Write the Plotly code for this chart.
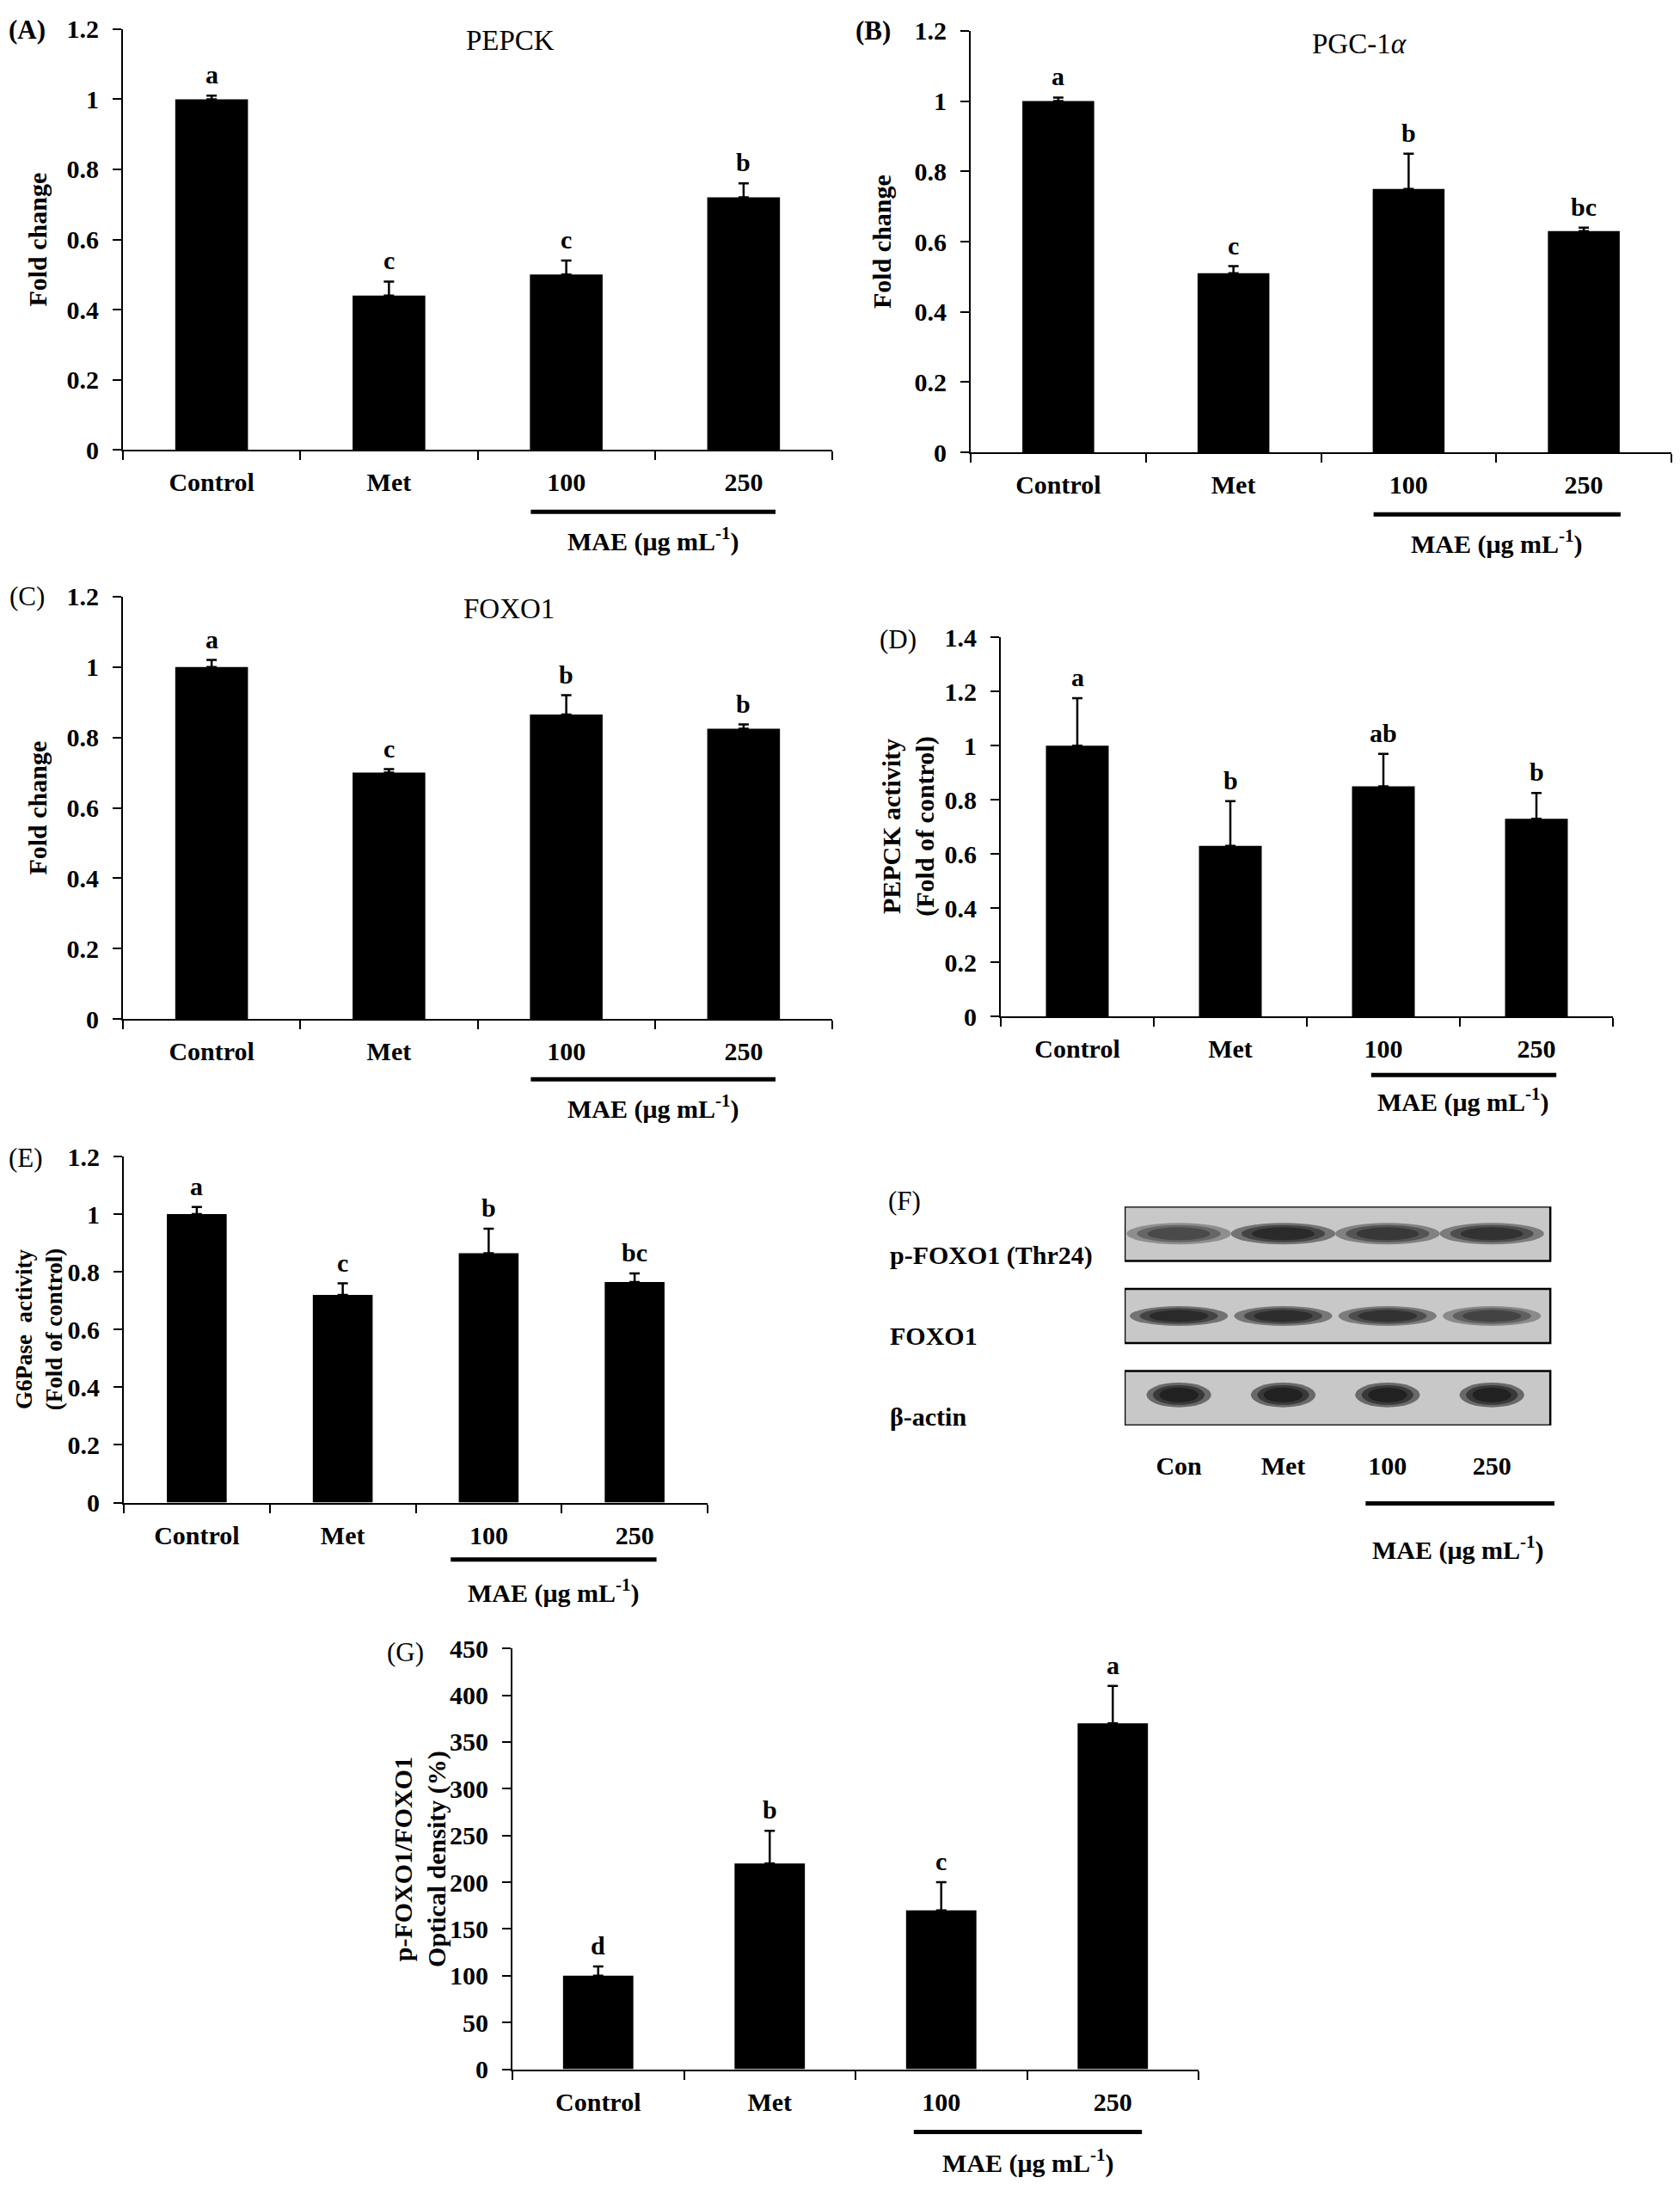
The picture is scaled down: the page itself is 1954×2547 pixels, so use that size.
import plotly.graph_objects as go

# page is 1954 x 2547; the body keeps its default 8px margin, so the figure is 16px smaller
PAGE_W, PAGE_H = 1954, 2547
PAD = 8
W, H = PAGE_W - 2 * PAD, PAGE_H - 2 * PAD
FONT = 'Liberation Serif'

groups = ['Control', 'Met', '100', '250']

# (A) PEPCK mRNA
pepck_mrna = [1.00, 0.44, 0.50, 0.72]
pepck_mrna_err = [0.01, 0.04, 0.04, 0.04]
pepck_mrna_sig = ['a', 'c', 'c', 'b']

# (B) PGC-1a mRNA
pgc1a_mrna = [1.00, 0.51, 0.75, 0.63]
pgc1a_mrna_err = [0.01, 0.02, 0.10, 0.01]
pgc1a_mrna_sig = ['a', 'c', 'b', 'bc']

# (C) FOXO1 mRNA
foxo1_mrna = [1.00, 0.70, 0.865, 0.825]
foxo1_mrna_err = [0.02, 0.01, 0.055, 0.012]
foxo1_mrna_sig = ['a', 'c', 'b', 'b']

# (D) PEPCK activity
pepck_act = [1.00, 0.63, 0.85, 0.73]
pepck_act_err = [0.175, 0.165, 0.12, 0.095]
pepck_act_sig = ['a', 'b', 'ab', 'b']

# (E) G6Pase activity
g6pase_act = [1.00, 0.72, 0.865, 0.765]
g6pase_act_err = [0.025, 0.04, 0.085, 0.03]
g6pase_act_sig = ['a', 'c', 'b', 'bc']

# (G) p-FOXO1/FOXO1 optical density
ratio_od = [100, 220, 170, 370]
ratio_od_err = [10, 35, 30, 40]
ratio_od_sig = ['d', 'b', 'c', 'a']

# (F) western blot, relative band darkness per lane
lanes = ['Con', 'Met', '100', '250']
blot_rows = ['p-FOXO1 (Thr24)', 'FOXO1', 'β-actin']
pfoxo1_band = [0.60, 0.90, 0.75, 0.80]
foxo1_band = [0.90, 0.85, 0.80, 0.65]
actin_band = [1.00, 1.00, 1.00, 1.00]


def px(x):
    return min(max((x - PAD) / W, 0), 1)


def py(y):
    return min(max(1 - (y - PAD) / H, 0), 1)


def font(size, bold=True):
    return dict(family=FONT, size=size, color='black', weight='bold' if bold else 'normal')


pos = list(range(len(groups)))
bounds = [i - 0.5 for i in range(len(groups) + 1)]

# box = (x left, x right, y of 0, y of max) in page pixels
panels = [
    dict(vals=pepck_mrna, err=pepck_mrna_err, sig=pepck_mrna_sig, ymax=1.2, step=0.2,
         box=(143, 968, 513, 17), title='PEPCK', title_xy=(593, 30),
         label='<b>(A)</b>', label_xy=(6, 18), ytitle='Fold change', ytitle_x=44, ytitle_size=30,
         mae=(1.80, 3.18, 586, 619)),
    dict(vals=pgc1a_mrna, err=pgc1a_mrna_err, sig=pgc1a_mrna_sig, ymax=1.2, step=0.2,
         box=(1129, 1944, 516, 19), title='PGC-1<i>α</i>', title_xy=(1581, 34),
         label='<b>(B)</b>', label_xy=(993, 19), ytitle='Fold change', ytitle_x=1025, ytitle_size=30,
         mae=(1.80, 3.21, 589, 622)),
    dict(vals=foxo1_mrna, err=foxo1_mrna_err, sig=foxo1_mrna_sig, ymax=1.2, step=0.2,
         box=(143, 968, 1184, 686), title='FOXO1', title_xy=(592, 700),
         label='(C)', label_xy=(9, 686), ytitle='Fold change', ytitle_x=44, ytitle_size=30,
         mae=(1.80, 3.18, 1255, 1288)),
    dict(vals=pepck_act, err=pepck_act_err, sig=pepck_act_sig, ymax=1.4, step=0.2,
         box=(1164, 1876, 1181, 734), title=None, title_xy=None,
         label='(D)', label_xy=(1021, 736), ytitle='PEPCK activity<br>(Fold of control)',
         ytitle_x=1057, ytitle_size=30, mae=(1.92, 3.13, 1250, 1280)),
    dict(vals=g6pase_act, err=g6pase_act_err, sig=g6pase_act_sig, ymax=1.2, step=0.2,
         box=(144, 823, 1754, 1346), title=None, title_xy=None,
         label='(E)', label_xy=(PAD, 1347), ytitle='G6Pase  activity<br>(Fold of control)',
         ytitle_x=45, ytitle_size=27, mae=(1.74, 3.15, 1821, 1858)),
    dict(vals=ratio_od, err=ratio_od_err, sig=ratio_od_sig, ymax=450, step=50,
         box=(596, 1394, 2422, 1926), title=None, title_xy=None,
         label='(G)', label_xy=(448, 1930), ytitle='p-FOXO1/FOXO1<br>Optical density (%)',
         ytitle_x=489, ytitle_size=30, mae=(1.84, 3.17, 2496, 2530)),
]

fig = go.Figure()
annotations = []
shapes = []
layout = {}

for k, p in enumerate(panels, start=1):
    xa = 'x' if k == 1 else f'x{k}'
    ya = 'y' if k == 1 else f'y{k}'
    x0, x1, yb, yt = p['box']

    fig.add_trace(go.Bar(
        x=pos, y=p['vals'], width=0.41,
        marker=dict(color='black', line=dict(width=0)),
        error_y=dict(type='data', symmetric=False, array=p['err'], arrayminus=[0] * len(pos),
                     color='black', thickness=2.5, width=6),
        xaxis=xa, yaxis=ya, showlegend=False, hovertext=groups,
    ))

    n_ticks = int(round(p['ymax'] / p['step']))
    tickvals = [round(i * p['step'], 3) for i in range(n_ticks + 1)]
    ticktext = [f'{v:g}' for v in tickvals]

    layout['xaxis' if k == 1 else f'xaxis{k}'] = dict(
        domain=[px(x0), px(x1)], anchor=ya, range=[-0.5, len(groups) - 0.5],
        tickvals=pos, ticktext=groups, ticks='', ticklabelstandoff=10,
        minor=dict(tickvals=bounds, ticks='outside', ticklen=10, tickwidth=2, tickcolor='black',
                   showgrid=False),
        showline=True, linecolor='black', linewidth=2,
        tickfont=font(30), showgrid=False, zeroline=False,
    )
    layout['yaxis' if k == 1 else f'yaxis{k}'] = dict(
        domain=[py(yb), py(yt)], anchor=xa, range=[0, p['ymax']],
        tickvals=tickvals, ticktext=ticktext,
        showline=True, linecolor='black', linewidth=2,
        ticks='outside', ticklen=10, tickwidth=2, tickcolor='black',
        tickfont=font(30), ticklabelstandoff=10, showgrid=False, zeroline=False,
    )

    # significance letters
    for g, v, e, s in zip(pos, p['vals'], p['err'], p['sig']):
        annotations.append(dict(x=g, y=v + e, xref=xa, yref=ya, text=f'<b>{s}</b>',
                                showarrow=False, yanchor='bottom', yshift=6, font=font(30)))

    # y title
    annotations.append(dict(x=px(p['ytitle_x']), y=(py(yb) + py(yt)) / 2, xref='paper', yref='paper',
                            text=f"<b>{p['ytitle']}</b>", textangle=-90, showarrow=False,
                            xanchor='center', yanchor='middle', font=font(p['ytitle_size'])))

    # panel letter
    annotations.append(dict(x=px(p['label_xy'][0]), y=py(p['label_xy'][1]), xref='paper', yref='paper',
                            text=p['label'], showarrow=False, xanchor='left', yanchor='middle',
                            font=font(31, bold=False)))

    if p['title']:
        annotations.append(dict(x=px(p['title_xy'][0]), y=py(p['title_xy'][1]), xref='paper', yref='paper',
                                text=p['title'], showarrow=False, xanchor='center', yanchor='middle',
                                font=font(33, bold=False)))

    # MAE bracket line
    m0, m1, ly, ty = p['mae']
    shapes.append(dict(type='line', xref=xa, yref='paper', x0=m0, x1=m1, y0=py(ly), y1=py(ly),
                       line=dict(color='black', width=5)))
    annotations.append(dict(x=(m0 + m1) / 2, y=py(ty), xref=xa, yref='paper',
                            text='<b>MAE (μg mL<sup>-1</sup>)</b>', showarrow=False,
                            xanchor='center', yanchor='middle', font=font(30)))

# (F) western blot panel on its own axes: x = lane, y = row
lane_pos = list(range(len(lanes)))
fig.add_trace(go.Scatter(x=lane_pos, y=[0] * len(lanes), mode='markers', marker=dict(opacity=0),
                         xaxis='x7', yaxis='y7', showlegend=False, hoverinfo='skip'))
layout['xaxis7'] = dict(domain=[px(1308), px(1808)], anchor='y7', range=[-0.52, 3.6],
                        tickvals=lane_pos, ticktext=lanes,
                        showline=False, ticks='', showgrid=False, zeroline=False,
                        tickfont=font(30), ticklabelstandoff=26)
layout['yaxis7'] = dict(domain=[py(1663), py(1405)], anchor='x7', range=[2.33, -0.33], visible=False)

band_shape = {0: (0.50, 0.13, 0.0), 1: (0.47, 0.12, 0.0), 2: (0.31, 0.15, -0.04)}
for r, band in enumerate([pfoxo1_band, foxo1_band, actin_band]):
    shapes.append(dict(type='rect', xref='x7', yref='y7', x0=-0.52, x1=3.56, y0=r - 0.33, y1=r + 0.33,
                       fillcolor='#c8c8c8', line=dict(color='black', width=2.5), layer='below'))
    hw, hh, dy = band_shape[r]
    for i, a in enumerate(band):
        for scale in (1.0, 0.8, 0.6):
            shapes.append(dict(type='circle', xref='x7', yref='y7',
                               x0=i - hw * scale, x1=i + hw * scale,
                               y0=r + dy - hh * scale, y1=r + dy + hh * scale,
                               fillcolor='rgb(10,10,10)', opacity=a * 0.5, line=dict(width=0)))

for name, yy in zip(blot_rows, [1463, 1557, 1653]):
    annotations.append(dict(x=px(1033), y=py(yy), xref='paper', yref='paper', text=f'<b>{name}</b>',
                            showarrow=False, xanchor='left', yanchor='middle', font=font(30)))
annotations.append(dict(x=px(1031), y=py(1398), xref='paper', yref='paper', text='(F)',
                        showarrow=False, xanchor='left', yanchor='middle', font=font(31, bold=False)))
shapes.append(dict(type='line', xref='x7', yref='paper', x0=1.79, x1=3.63, y0=py(1755), y1=py(1755),
                   line=dict(color='black', width=5)))
annotations.append(dict(x=2.68, y=py(1808), xref='x7', yref='paper',
                        text='<b>MAE (μg mL<sup>-1</sup>)</b>', showarrow=False,
                        xanchor='center', yanchor='middle', font=font(30)))

fig.update_layout(
    width=W, height=H,
    margin=dict(l=0, r=0, t=0, b=0),
    paper_bgcolor='white', plot_bgcolor='white',
    font=dict(family=FONT, color='black'),
    annotations=annotations, shapes=shapes,
    **layout,
)

fig.write_html('out.html')
